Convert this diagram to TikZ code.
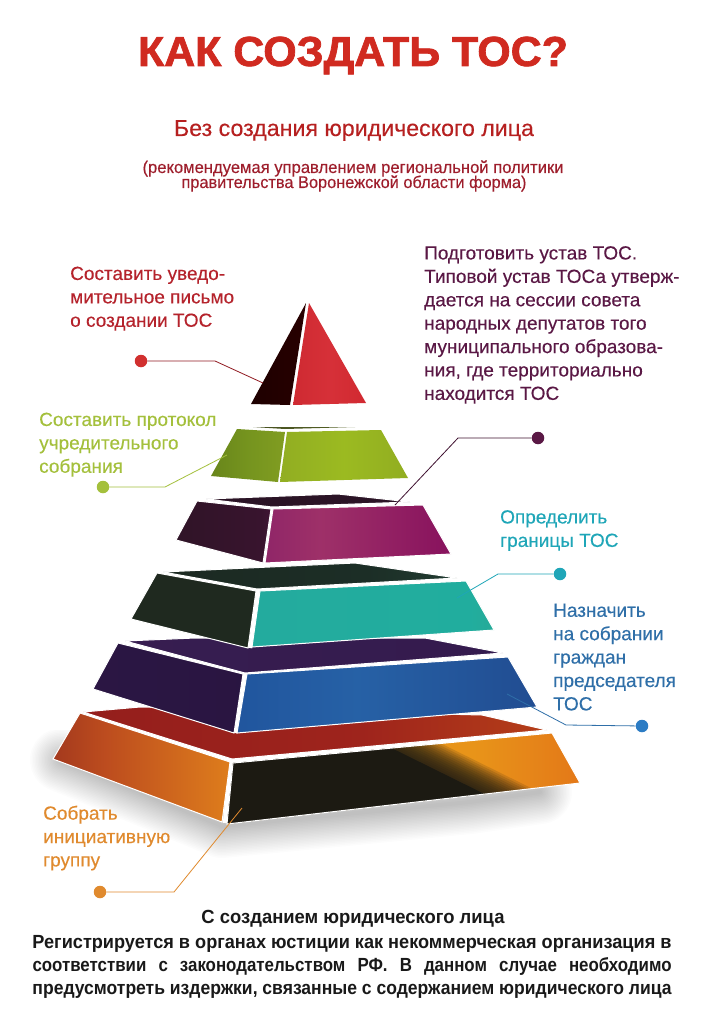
\documentclass[tikz,border=0pt]{standalone}
\usepackage{fontspec}
\setmainfont{Liberation Sans}
\newfontfamily\labfont[FakeBold=0.25]{Liberation Sans}
\newfontfamily\titlefont[FakeBold=1.6]{Liberation Sans Bold}
\usetikzlibrary{calc}
\definecolor{cRed}{HTML}{B5232C}\definecolor{cGreen}{HTML}{A4C03C}\definecolor{cPlum}{HTML}{5A1845}
\definecolor{cTeal}{HTML}{1FA6B8}\definecolor{cBlue}{HTML}{2F6FA8}\definecolor{cOrange}{HTML}{E08A2E}
\definecolor{cDotBlue}{HTML}{2C7CC4}\definecolor{cDotRed}{HTML}{D1302F}\definecolor{cTitle}{HTML}{D02A20}
\definecolor{cSub}{HTML}{B62020}\definecolor{cSubB}{HTML}{9E1E2C}\definecolor{cDark}{HTML}{1C1A12}
\pgfdeclarehorizontalshading{apexL}{100bp}{color(0bp)=(black!90!red);color(70bp)=(black!85!red);color(100bp)=(red!40!black)}
\pgfdeclarehorizontalshading{apexR}{100bp}{rgb(0bp)=(.78,.14,.17);rgb(50bp)=(.84,.19,.22);rgb(100bp)=(.80,.13,.16)}
\pgfdeclarehorizontalshading{greenL}{100bp}{rgb(0bp)=(.36,.47,.09);rgb(50bp)=(.46,.58,.12);rgb(100bp)=(.55,.65,.14)}
\pgfdeclarehorizontalshading{greenR}{100bp}{rgb(0bp)=(.53,.63,.14);rgb(50bp)=(.61,.73,.13);rgb(100bp)=(.53,.63,.13)}
\pgfdeclarehorizontalshading{greenT}{100bp}{rgb(0bp)=(.25,.28,.12);rgb(100bp)=(.36,.42,.15)}
\pgfdeclarehorizontalshading{plumL}{100bp}{rgb(0bp)=(.17,.08,.14);rgb(70bp)=(.22,.08,.18);rgb(100bp)=(.42,.10,.33)}
\pgfdeclarehorizontalshading{plumR}{100bp}{rgb(0bp)=(.47,.08,.40);rgb(40bp)=(.62,.19,.41);rgb(72bp)=(.54,.08,.37);rgb(100bp)=(.43,.06,.37)}
\pgfdeclarehorizontalshading{plumT}{100bp}{rgb(0bp)=(.16,.07,.14);rgb(70bp)=(.17,.08,.15);rgb(100bp)=(.25,.10,.22)}
\pgfdeclarehorizontalshading{tealL}{100bp}{rgb(0bp)=(.12,.16,.12);rgb(78bp)=(.12,.16,.12);rgb(92bp)=(.13,.40,.34);rgb(100bp)=(.17,.55,.47)}
\pgfdeclarehorizontalshading{tealR}{100bp}{rgb(0bp)=(.13,.63,.57);rgb(6bp)=(.25,.60,.48);rgb(22bp)=(.14,.67,.62);rgb(70bp)=(.13,.68,.62);rgb(100bp)=(.24,.60,.47)}
\pgfdeclarehorizontalshading{tealT}{100bp}{rgb(0bp)=(.11,.15,.12);rgb(60bp)=(.11,.18,.15);rgb(100bp)=(.16,.32,.26)}
\pgfdeclarehorizontalshading{blueT}{100bp}{rgb(0bp)=(.22,.12,.32);rgb(100bp)=(.20,.10,.30)}
\pgfdeclarehorizontalshading{blueL}{100bp}{rgb(0bp)=(.17,.09,.27);rgb(100bp)=(.16,.08,.25)}
\pgfdeclarehorizontalshading{blueR}{100bp}{rgb(0bp)=(.10,.28,.58);rgb(45bp)=(.15,.38,.65);rgb(75bp)=(.13,.30,.57);rgb(100bp)=(.11,.22,.42)}
\pgfdeclarehorizontalshading{redT}{100bp}{rgb(0bp)=(.55,.10,.11);rgb(55bp)=(.62,.14,.11);rgb(82bp)=(.74,.28,.09);rgb(100bp)=(.85,.42,.09)}
\pgfdeclarehorizontalshading{orangeL}{100bp}{rgb(0bp)=(.48,.10,.11);rgb(40bp)=(.74,.30,.12);rgb(75bp)=(.87,.49,.11);rgb(100bp)=(.91,.58,.10)}
\pgfdeclarehorizontalshading{baseF}{100bp}{rgb(0bp)=(.90,.60,.10);rgb(60bp)=(.91,.58,.10);rgb(85bp)=(.88,.40,.09);rgb(100bp)=(.91,.50,.10)}
\tikzset{
  face/.style={draw=white,line width=1pt,line join=miter},
  gap/.style={draw=white,line width=4.5pt},
  conn/.style={line width=0.8pt},
  dot/.style={circle,fill=#1,draw=none,inner sep=0pt,minimum size=12.5pt},
  lab/.style={anchor=north west,inner sep=0pt,align=left,font=\labfont\fontsize{19}{23.4}\selectfont},
  base line/.style={anchor=base,inner sep=0pt},
  bottomtext/.style={base line,text=black!90,font=\fontsize{19}{22}\bfseries\selectfont},
}
\newcommand{\darkband}[2]{\fill[cDark,opacity=#2] ({400+.443*#1-300*.896},{750-.896*#1-300*.443}) -- ({400+.443*#1+300*.896},{750-.896*#1+300*.443}) -- ({400+.443*#1+300*.896-200*.443},{750-.896*#1+300*.443+200*.896}) -- ({400+.443*#1-300*.896-200*.443},{750-.896*#1-300*.443+200*.896}) -- cycle;}
\begin{document}
\begin{tikzpicture}[x=1pt,y=-1pt]
\useasboundingbox (0,0) rectangle (720,1024);
\fill[white] (0,0) rectangle (720,1024);
% shadow
\begin{scope}
\clip (0,730) rectangle (600,880);
\foreach \w in {64,61,...,4}{
  \draw[black,opacity=0.01,line width=\w pt,line join=round,line cap=round] (62,760) -- (222,826) -- (470,802) -- (540,792);
}
\end{scope}
% base tier
\shadedraw[shading=redT,face] (83,712) -- (140,707) -- (482,715) -- (547,730) -- (232,759) -- cycle;
\draw[gap] (232,762) -- (225,823);
\shadedraw[shading=orangeL,face] (80,713) -- (230,762) -- (222,822) -- (53,759) -- cycle;
\begin{scope}
  \clip (233,763) -- (552,733) -- (580,783) -- (227,824) -- cycle;
  \shade[shading=baseF] (227,733) rectangle (580,824);
  \foreach \d in {24,22,...,0}{\darkband{\d}{0.14}}
  \darkband{-2}{1}
\end{scope}
\draw[face] (233,763) -- (552,733) -- (580,783) -- (227,824) -- cycle;
% blue tier
\shadedraw[shading=blueT,face] (125,641) -- (195,638) -- (425,638) -- (503,653) -- (245,673) -- cycle;
\draw[gap] (245,674) -- (235.5,733);
\shadedraw[shading=blueL,face] (118,643) -- (243,674) -- (234,733) -- (93,689) -- cycle;
\shadedraw[shading=blueR,face] (247,674) -- (508,657) -- (537,707) -- (237,733) -- cycle;
% teal tier
\shadedraw[shading=tealT,face] (163,572) -- (355,563) -- (457,578) -- (257,589) -- cycle;
\draw[gap] (258,591) -- (250,648);
\shadedraw[shading=tealL,face] (157,573) -- (256,591) -- (248,648) -- (131,619) -- cycle;
\shadedraw[shading=tealR,face] (260,591) -- (466,581) -- (494,630) -- (252,647) -- cycle;
% plum tier
\shadedraw[shading=plumT,face] (206,499) -- (338,494) -- (410,502) -- (272,507) -- cycle;
\draw[gap] (272,509) -- (264,563);
\shadedraw[shading=plumL,face] (197,501) -- (271,509) -- (263,563) -- (176,540) -- cycle;
\shadedraw[shading=plumR,face] (273,509) -- (423,505) -- (451,554) -- (265,563) -- cycle;
% green tier
\shadedraw[shading=greenT,draw=none] (253,427) -- (355,427) -- (285,429) -- cycle;
\shadedraw[shading=greenL,draw=none] (237,429) -- (285,432) -- (278,482) -- (211,476) -- cycle;
\shadedraw[shading=greenR,draw=none] (287,432) -- (381,430) -- (408,478) -- (280,482) -- cycle;
% apex
\shadedraw[shading=apexL,draw=none] (306,303) -- (290,405) -- (251,404) -- cycle;
\shadedraw[shading=apexR,draw=none] (309,303) -- (366,403) -- (293,405) -- cycle;
% title texts
\node[base line,text=cTitle,font=\titlefont\fontsize{42}{46}\selectfont] (title) at (353,66) {\resizebox{430pt}{\height}{КАК СОЗДАТЬ ТОС?}};
\node[base line,text=cSub,font=\labfont\fontsize{23}{26}\selectfont] (sub) at (354,136) {\resizebox{360pt}{\height}{Без создания юридического лица}};
\node[base line,text=cSubB,font=\labfont\fontsize{17}{19}\selectfont] (subA) at (353,173) {\resizebox{421pt}{\height}{(рекомендуемая управлением региональной политики}};
\node[base line,text=cSubB,font=\labfont\fontsize{17}{19}\selectfont] (subB) at (354,188) {\resizebox{345pt}{\height}{правительства Воронежской области форма)}};
% labels
\node[lab,text=cRed] (lRed) at (70,266.5) {Составить уведо-\\мительное письмо\\о создании ТОС};
\node[lab,text=cGreen] (lGreen) at (39,412.5) {Составить протокол\\учредительного\\собрания};
\node[lab,text=cPlum] (lPlum) at (424,246) {Подготовить устав ТОС.\\Типовой устав ТОСа утверж-\\дается на сессии совета\\народных депутатов того\\муниципального образова-\\ния, где территориально\\находится ТОС};
\node[lab,text=cTeal] (lTeal) at (500,510) {Определить\\границы ТОС};
\node[lab,text=cBlue] (lBlue) at (553,603.5) {Назначить\\на собрании\\граждан\\председателя\\ТОС};
\node[lab,text=cOrange] (lOrange) at (43,805.5) {Собрать\\инициативную\\группу};
% connectors
\node[dot=cDotRed] (dRed) at (141,361) {};
\coordinate (cRedA) at (215,361); \coordinate (eRed) at (263,383);
\draw[conn,draw=cRed!80!black] (dRed) -- (cRedA) -- (eRed);
\node[dot=cGreen] (dGreen) at (103,487) {};
\coordinate (cGreenA) at (165,487); \coordinate (eGreen) at (227,455);
\draw[conn,draw=cGreen] (dGreen) -- (cGreenA) -- (eGreen);
\node[dot=cPlum] (dPlum) at (538,438) {};
\coordinate (cPlumA) at (458,438); \coordinate (ePlum) at (395,505);
\draw[conn,draw=cPlum!70!black] (dPlum) -- (cPlumA) -- (ePlum);
\node[dot=cTeal] (dTeal) at (560,574) {};
\coordinate (cTealA) at (498,574); \coordinate (eTeal) at (457,598);
\draw[conn,draw=cTeal] (dTeal) -- (cTealA) -- (eTeal);
\node[dot=cDotBlue] (dBlue) at (642,726) {};
\coordinate (cBlueA) at (566,725); \coordinate (eBlue) at (507,694);
\draw[conn,draw=cBlue] (dBlue) -- (cBlueA) -- (eBlue);
\node[dot=cOrange] (dOrange) at (100,892) {};
\coordinate (cOrangeA) at (174,892); \coordinate (eOrange) at (242,808);
\draw[conn,draw=cOrange] (dOrange) -- (cOrangeA) -- (eOrange);
% bottom text
\node[bottomtext] (bA) at (353,923) {\resizebox{303pt}{\height}{С созданием юридического лица}};
\node[bottomtext] (bB) at (352,948) {\resizebox{639pt}{\height}{Регистрируется в органах юстиции как некоммерческая организация в}};
\node[bottomtext] (bC) at (352,971) {\resizebox{639pt}{\height}{\makebox[720pt][s]{соответствии с законодательством РФ. В данном случае необходимо}}};
\node[bottomtext] (bD) at (352,994) {\resizebox{639pt}{\height}{предусмотреть издержки, связанные с содержанием юридического лица}};
\end{tikzpicture}
\end{document}
